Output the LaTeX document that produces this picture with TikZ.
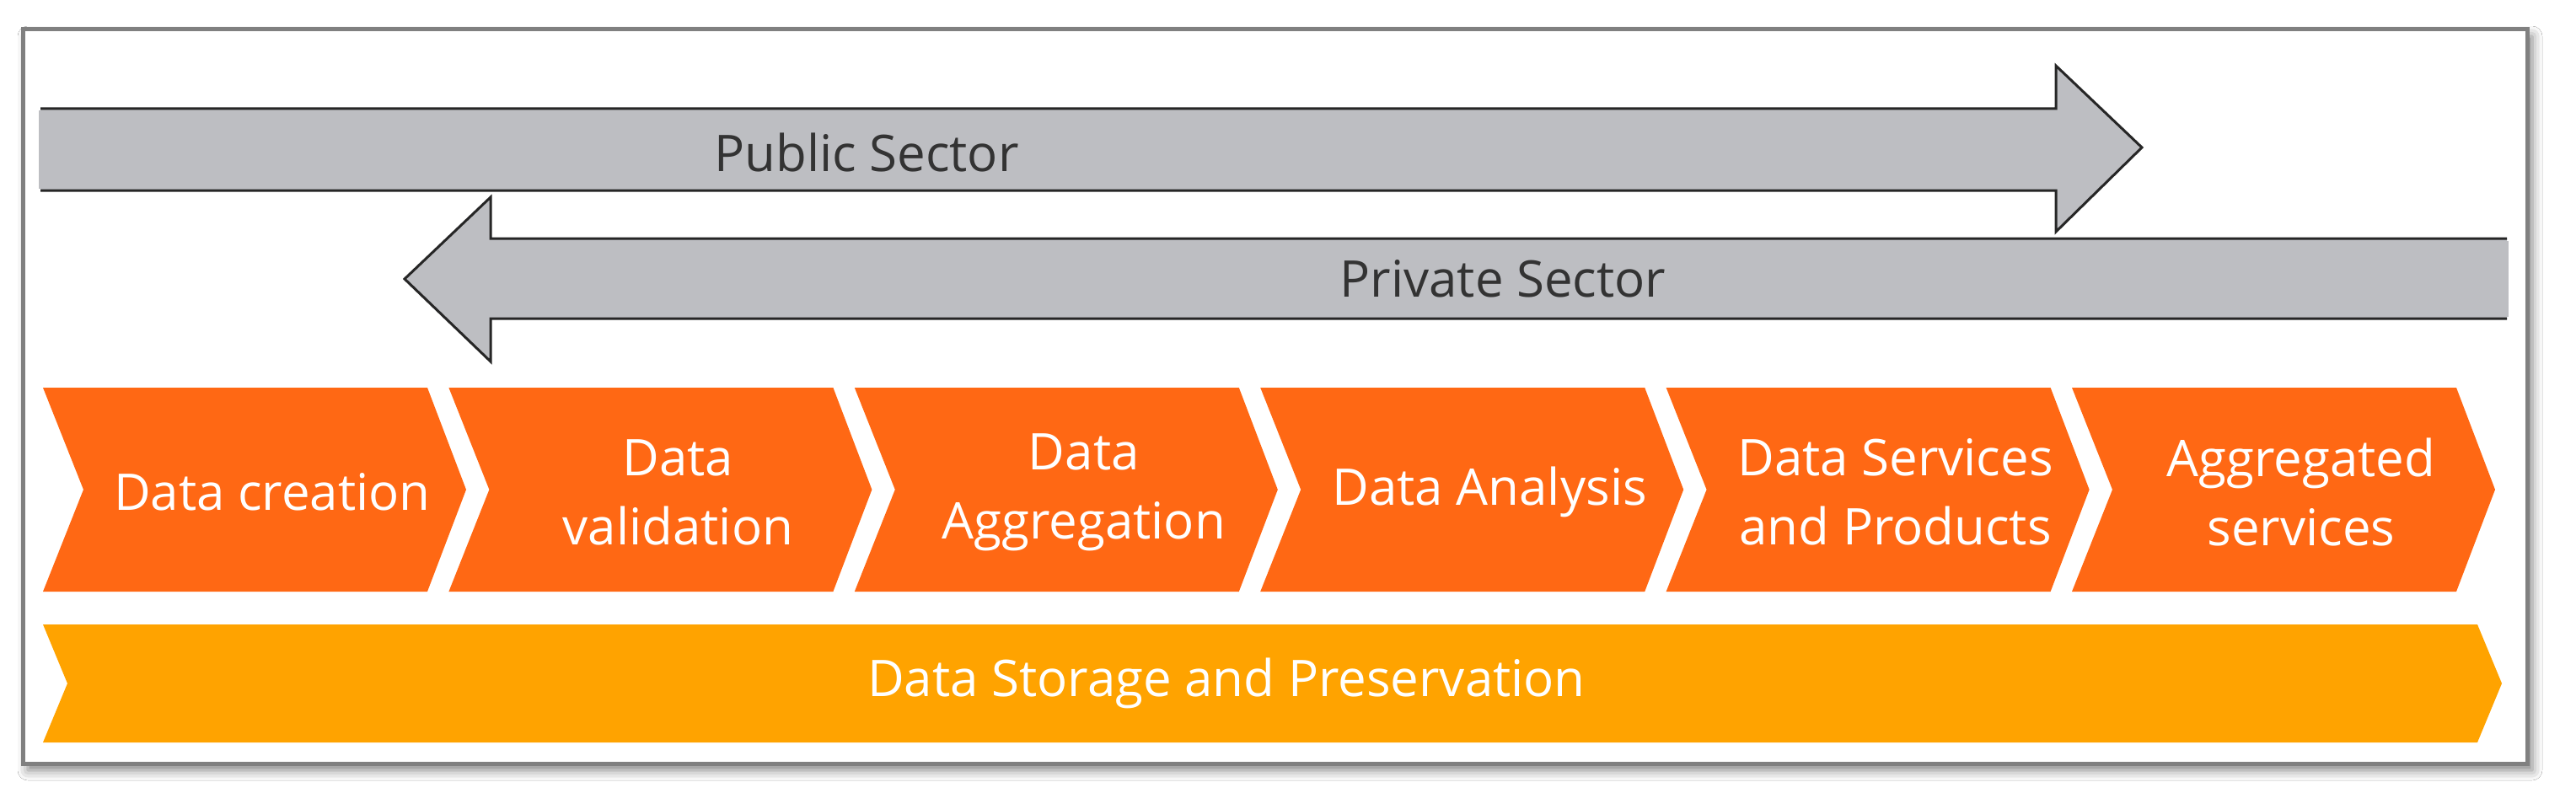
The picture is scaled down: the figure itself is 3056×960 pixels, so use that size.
\documentclass[tikz,border=0pt]{standalone}
\usepackage{fontspec}
\setmainfont{Open Sans}
\usetikzlibrary{shadows.blur}
\definecolor{chev}{HTML}{FF6814}
\definecolor{stor}{HTML}{FFA300}
\definecolor{sect}{HTML}{BDBEC2}
\begin{document}
\begin{tikzpicture}[x=1pt,y=-1pt,
  sectarrow/.style={fill=sect,draw=black!85,line width=3pt,line join=miter},
  lbl/.style={font=\fontsize{60}{82}\selectfont,text=white,align=center},
  slbl/.style={font=\fontsize{60}{70}\selectfont,text=black!80}]
\useasboundingbox (0,0) rectangle (3056,960);
\fill[white] (0,0) rectangle (3056,960);
\draw[fill=white,draw=black!50,line width=5pt,blur shadow={shadow xshift=6pt,shadow yshift=-8pt,shadow blur radius=12pt,shadow opacity=50}] (27,35) rectangle (2998,906);
% public sector
\draw[sectarrow] (48,129) -- (2439,129) -- (2439,78) -- (2541,175) -- (2439,275) -- (2439,226) -- (48,226);
\fill[sect] (46,131.5) rectangle (60,223.5);
\node[slbl] (pub) at (1028,181) {Public Sector};
% private sector
\draw[sectarrow] (2974,283) -- (582,283) -- (582,234) -- (480,331) -- (582,429) -- (582,378) -- (2974,378);
\fill[sect] (2962,285.5) rectangle (2976,375.5);
\node[slbl] (pri) at (1783,331) {Private Sector};
% chevrons
\foreach \i/\t in {0/{Data creation},1/{Data\\validation},2/{Data\\Aggregation},3/{Data Analysis},4/{Data Services\\and Products},5/{Aggregated\\services}}{
  \pgfmathsetmacro{\xo}{51+481.4*\i}
  \fill[chev] (\xo,460) -- (\xo+456,460) -- (\xo+502,581) -- (\xo+456,702) -- (\xo,702) -- (\xo+48,581) -- cycle;
  \node[lbl] (c\i) at (\xo+272,584) {\t};
}
% storage
\fill[stor] (51,741) -- (2939,741) -- (2968,811) -- (2939,881) -- (51,881) -- (80,811) -- cycle;
\node[lbl] (st) at (1455,811) {Data Storage and Preservation};
\end{tikzpicture}
\end{document}
